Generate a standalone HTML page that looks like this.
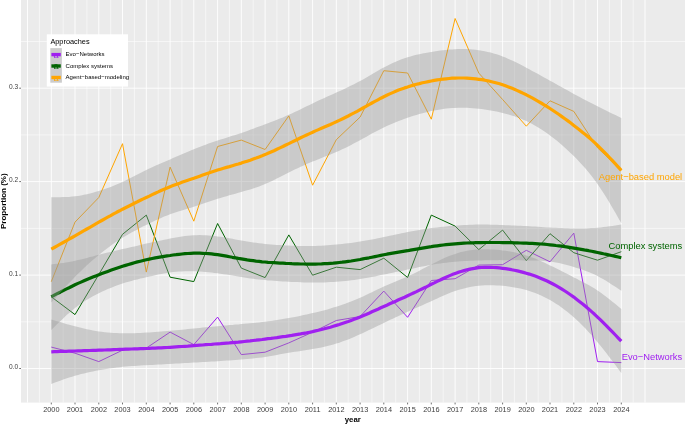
<!DOCTYPE html>
<html><head><meta charset="utf-8"><title>Approaches</title>
<style>
html,body{margin:0;padding:0;background:#fff;}
svg{display:block;font-family:"Liberation Sans",sans-serif;}
</style></head><body>
<svg width="685" height="424" viewBox="0 0 685 424">
<rect width="685" height="424" fill="#fff"/>
<rect x="21" y="0" width="664" height="402.6" fill="#ebebeb"/>
<path d="M21 321.8H685M21 228.4H685M21 134.9H685M21 41.5H685M39.4 0V402.6M63.2 0V402.6M86.9 0V402.6M110.7 0V402.6M134.4 0V402.6M158.2 0V402.6M181.9 0V402.6M205.7 0V402.6M229.4 0V402.6M253.2 0V402.6M276.9 0V402.6M300.7 0V402.6M324.4 0V402.6M348.2 0V402.6M371.9 0V402.6M395.7 0V402.6M419.4 0V402.6M443.2 0V402.6M466.9 0V402.6M490.7 0V402.6M514.4 0V402.6M538.2 0V402.6M561.9 0V402.6M585.7 0V402.6M609.4 0V402.6M633.2 0V402.6" stroke="#fff" stroke-width="0.55" fill="none"/>
<path d="M21 368.5H685M21 275.1H685M21 181.6H685M21 88.2H685M27.5 0V402.6M51.3 0V402.6M75.0 0V402.6M98.8 0V402.6M122.5 0V402.6M146.3 0V402.6M170.1 0V402.6M193.8 0V402.6M217.6 0V402.6M241.3 0V402.6M265.1 0V402.6M288.8 0V402.6M312.6 0V402.6M336.3 0V402.6M360.1 0V402.6M383.8 0V402.6M407.6 0V402.6M431.3 0V402.6M455.1 0V402.6M478.8 0V402.6M502.6 0V402.6M526.3 0V402.6M550.0 0V402.6M573.8 0V402.6M597.5 0V402.6M621.3 0V402.6M645.0 0V402.6" stroke="#fff" stroke-width="0.9" fill="none"/>
<polyline points="51.3,347.1 75.0,353.2 98.8,361.6 122.5,350.2 146.3,348.1 170.1,332.1 193.8,344.6 217.6,317.1 241.3,354.6 265.1,352.2 288.8,342.9 312.6,332.2 336.3,320.5 360.1,316.5 383.8,291.1 407.6,317.3 431.3,280.5 455.1,278.7 478.8,265.1 502.6,264.7 526.3,250.3 550.0,261.8 573.8,233.1 597.5,361.6 621.3,362.6" fill="none" stroke="#a020f0" stroke-width="1" stroke-linejoin="round"/>
<polyline points="51.3,296.8 75.0,314.6 98.8,274.5 122.5,234.3 146.3,215.1 170.1,277.2 193.8,281.6 217.6,223.5 241.3,268.1 265.1,277.6 288.8,234.9 312.6,275.2 336.3,267.2 360.1,269.6 383.8,258.2 407.6,277.5 431.3,215.1 455.1,226.1 478.8,249.6 502.6,230.1 526.3,260.6 550.0,233.7 573.8,252.7 597.5,260.2 621.3,251.7" fill="none" stroke="#006400" stroke-width="1" stroke-linejoin="round"/>
<polyline points="51.3,281.7 75.0,222.1 98.8,197.5 122.5,143.7 146.3,272.1 170.1,167.1 193.8,221.2 217.6,146.5 241.3,140.1 265.1,149.5 288.8,115.9 312.6,185.2 336.3,139.7 360.1,117.1 383.8,70.7 407.6,73.0 431.3,119.2 455.1,18.5 478.8,73.1 502.6,99.5 526.3,126.2 550.0,100.8 573.8,111.4 597.5,147.8 621.3,170.4" fill="none" stroke="#ffa500" stroke-width="1" stroke-linejoin="round"/>
<polygon points="51.3,319.5 54.3,320.4 57.2,321.3 60.2,322.1 63.2,323.0 66.1,323.9 69.1,324.7 72.1,325.5 75.0,326.3 78.0,327.1 81.0,327.8 84.0,328.5 86.9,329.2 89.9,329.8 92.9,330.4 95.8,330.9 98.8,331.4 101.8,331.8 104.7,332.2 107.7,332.5 110.7,332.7 113.6,332.9 116.6,333.1 119.6,333.2 122.5,333.3 125.5,333.3 128.5,333.3 131.5,333.3 134.4,333.2 137.4,333.1 140.4,333.0 143.3,332.8 146.3,332.6 149.3,332.4 152.2,332.3 155.2,332.0 158.2,331.8 161.1,331.6 164.1,331.3 167.1,331.1 170.1,330.8 173.0,330.5 176.0,330.3 179.0,330.0 181.9,329.7 184.9,329.4 187.9,329.1 190.8,328.8 193.8,328.5 196.8,328.2 199.7,327.9 202.7,327.6 205.7,327.3 208.6,327.0 211.6,326.7 214.6,326.4 217.6,326.2 220.5,325.9 223.5,325.6 226.5,325.4 229.4,325.1 232.4,324.9 235.4,324.6 238.3,324.4 241.3,324.1 244.3,323.8 247.2,323.6 250.2,323.3 253.2,323.0 256.1,322.7 259.1,322.4 262.1,322.0 265.1,321.7 268.0,321.3 271.0,320.9 274.0,320.5 276.9,320.1 279.9,319.6 282.9,319.1 285.8,318.6 288.8,318.1 291.8,317.5 294.7,317.0 297.7,316.4 300.7,315.8 303.6,315.1 306.6,314.5 309.6,313.8 312.6,313.1 315.5,312.4 318.5,311.7 321.5,310.9 324.4,310.2 327.4,309.4 330.4,308.5 333.3,307.6 336.3,306.7 339.3,305.8 342.2,304.8 345.2,303.7 348.2,302.6 351.1,301.5 354.1,300.3 357.1,299.1 360.1,297.8 363.0,296.4 366.0,295.0 369.0,293.6 371.9,292.2 374.9,290.7 377.9,289.3 380.8,287.9 383.8,286.6 386.8,285.3 389.7,284.0 392.7,282.8 395.7,281.6 398.6,280.3 401.6,279.1 404.6,277.8 407.6,276.5 410.5,275.1 413.5,273.7 416.5,272.2 419.4,270.7 422.4,269.1 425.4,267.6 428.3,266.0 431.3,264.5 434.3,263.0 437.2,261.5 440.2,260.0 443.2,258.6 446.1,257.3 449.1,256.1 452.1,254.9 455.1,253.9 458.0,252.9 461.0,252.1 464.0,251.4 466.9,250.8 469.9,250.3 472.9,249.9 475.8,249.6 478.8,249.4 481.8,249.3 484.7,249.3 487.7,249.3 490.7,249.4 493.6,249.5 496.6,249.8 499.6,250.1 502.6,250.4 505.5,250.8 508.5,251.2 511.5,251.7 514.4,252.3 517.4,253.0 520.4,253.7 523.3,254.5 526.3,255.4 529.3,256.4 532.2,257.5 535.2,258.6 538.2,259.9 541.1,261.2 544.1,262.5 547.1,263.9 550.0,265.4 553.0,266.8 556.0,268.3 559.0,269.8 561.9,271.3 564.9,272.8 567.9,274.3 570.8,275.8 573.8,277.4 576.8,278.8 579.7,280.4 582.7,281.9 585.7,283.5 588.6,285.1 591.6,286.8 594.6,288.6 597.5,290.5 600.5,292.5 603.5,294.7 606.5,296.9 609.4,299.3 612.4,301.7 615.4,304.1 618.3,306.6 621.3,309.1 621.3,373.0 618.3,369.0 615.4,365.0 612.4,361.1 609.4,357.2 606.5,353.3 603.5,349.5 600.5,345.8 597.5,342.2 594.6,338.7 591.6,335.3 588.6,332.0 585.7,328.8 582.7,325.7 579.7,322.8 576.8,320.0 573.8,317.2 570.8,314.7 567.9,312.2 564.9,309.9 561.9,307.7 559.0,305.6 556.0,303.7 553.0,301.8 550.0,300.1 547.1,298.5 544.1,297.0 541.1,295.6 538.2,294.3 535.2,293.1 532.2,292.0 529.3,291.0 526.3,290.1 523.3,289.3 520.4,288.6 517.4,288.0 514.4,287.4 511.5,286.9 508.5,286.5 505.5,286.1 502.6,285.8 499.6,285.6 496.6,285.4 493.6,285.3 490.7,285.2 487.7,285.2 484.7,285.3 481.8,285.5 478.8,285.8 475.8,286.1 472.9,286.5 469.9,287.1 466.9,287.7 464.0,288.4 461.0,289.2 458.0,290.1 455.1,291.1 452.1,292.1 449.1,293.3 446.1,294.5 443.2,295.8 440.2,297.1 437.2,298.5 434.3,299.8 431.3,301.2 428.3,302.5 425.4,303.8 422.4,305.2 419.4,306.5 416.5,307.8 413.5,309.1 410.5,310.5 407.6,311.8 404.6,313.2 401.6,314.5 398.6,315.9 395.7,317.3 392.7,318.7 389.7,320.1 386.8,321.5 383.8,323.0 380.8,324.4 377.9,325.8 374.9,327.3 371.9,328.7 369.0,330.1 366.0,331.6 363.0,332.9 360.1,334.3 357.1,335.6 354.1,336.9 351.1,338.2 348.2,339.4 345.2,340.5 342.2,341.6 339.3,342.7 336.3,343.6 333.3,344.5 330.4,345.3 327.4,346.1 324.4,346.8 321.5,347.4 318.5,348.0 315.5,348.6 312.6,349.1 309.6,349.6 306.6,350.1 303.6,350.5 300.7,350.9 297.7,351.4 294.7,351.8 291.8,352.3 288.8,352.7 285.8,353.3 282.9,353.8 279.9,354.3 276.9,354.9 274.0,355.4 271.0,356.0 268.0,356.5 265.1,356.9 262.1,357.4 259.1,357.7 256.1,358.1 253.2,358.4 250.2,358.7 247.2,359.0 244.3,359.2 241.3,359.5 238.3,359.7 235.4,360.0 232.4,360.2 229.4,360.4 226.5,360.6 223.5,360.8 220.5,361.0 217.6,361.2 214.6,361.4 211.6,361.6 208.6,361.7 205.7,361.9 202.7,362.1 199.7,362.3 196.8,362.5 193.8,362.6 190.8,362.8 187.9,363.0 184.9,363.1 181.9,363.3 179.0,363.5 176.0,363.6 173.0,363.8 170.1,364.0 167.1,364.1 164.1,364.3 161.1,364.4 158.2,364.6 155.2,364.7 152.2,364.9 149.3,365.0 146.3,365.2 143.3,365.3 140.4,365.5 137.4,365.7 134.4,365.9 131.5,366.1 128.5,366.3 125.5,366.6 122.5,366.8 119.6,367.2 116.6,367.5 113.6,367.9 110.7,368.3 107.7,368.7 104.7,369.2 101.8,369.7 98.8,370.2 95.8,370.8 92.9,371.4 89.9,372.0 86.9,372.7 84.0,373.4 81.0,374.1 78.0,374.9 75.0,375.8 72.1,376.7 69.1,377.6 66.1,378.6 63.2,379.6 60.2,380.7 57.2,381.7 54.3,382.8 51.3,383.9" fill="#999" fill-opacity="0.4"/>
<polyline points="51.3,351.8 54.3,351.7 57.2,351.6 60.2,351.5 63.2,351.4 66.1,351.3 69.1,351.2 72.1,351.1 75.0,351.0 78.0,350.9 81.0,350.8 84.0,350.7 86.9,350.6 89.9,350.5 92.9,350.4 95.8,350.3 98.8,350.2 101.8,350.1 104.7,350.0 107.7,349.9 110.7,349.8 113.6,349.6 116.6,349.5 119.6,349.4 122.5,349.3 125.5,349.2 128.5,349.1 131.5,349.0 134.4,348.9 137.4,348.8 140.4,348.7 143.3,348.6 146.3,348.5 149.3,348.4 152.2,348.2 155.2,348.1 158.2,347.9 161.1,347.8 164.1,347.6 167.1,347.5 170.1,347.3 173.0,347.1 176.0,346.9 179.0,346.7 181.9,346.5 184.9,346.3 187.9,346.1 190.8,345.8 193.8,345.6 196.8,345.4 199.7,345.2 202.7,345.0 205.7,344.7 208.6,344.5 211.6,344.3 214.6,344.0 217.6,343.8 220.5,343.6 223.5,343.3 226.5,343.1 229.4,342.9 232.4,342.6 235.4,342.3 238.3,342.1 241.3,341.8 244.3,341.5 247.2,341.2 250.2,340.9 253.2,340.5 256.1,340.2 259.1,339.8 262.1,339.5 265.1,339.1 268.0,338.7 271.0,338.4 274.0,338.0 276.9,337.6 279.9,337.1 282.9,336.7 285.8,336.3 288.8,335.8 291.8,335.4 294.7,334.9 297.7,334.4 300.7,333.9 303.6,333.3 306.6,332.8 309.6,332.2 312.6,331.6 315.5,330.9 318.5,330.2 321.5,329.5 324.4,328.8 327.4,328.0 330.4,327.2 333.3,326.3 336.3,325.4 339.3,324.5 342.2,323.5 345.2,322.5 348.2,321.5 351.1,320.4 354.1,319.3 357.1,318.2 360.1,317.0 363.0,315.7 366.0,314.5 369.0,313.2 371.9,311.8 374.9,310.5 377.9,309.2 380.8,307.8 383.8,306.5 386.8,305.2 389.7,303.8 392.7,302.5 395.7,301.2 398.6,299.8 401.6,298.5 404.6,297.2 407.6,295.8 410.5,294.4 413.5,293.0 416.5,291.6 419.4,290.1 422.4,288.7 425.4,287.3 428.3,285.8 431.3,284.3 434.3,282.9 437.2,281.4 440.2,280.0 443.2,278.5 446.1,277.2 449.1,275.9 452.1,274.6 455.1,273.5 458.0,272.4 461.0,271.5 464.0,270.6 466.9,269.8 469.9,269.1 472.9,268.6 475.8,268.1 478.8,267.7 481.8,267.5 484.7,267.4 487.7,267.3 490.7,267.3 493.6,267.5 496.6,267.7 499.6,267.9 502.6,268.3 505.5,268.7 508.5,269.2 511.5,269.7 514.4,270.3 517.4,270.9 520.4,271.6 523.3,272.4 526.3,273.2 529.3,274.1 532.2,275.1 535.2,276.1 538.2,277.2 541.1,278.4 544.1,279.7 547.1,281.0 550.0,282.5 553.0,284.0 556.0,285.6 559.0,287.3 561.9,289.1 564.9,291.0 567.9,293.0 570.8,295.0 573.8,297.1 576.8,299.4 579.7,301.7 582.7,304.0 585.7,306.5 588.6,309.0 591.6,311.6 594.6,314.3 597.5,317.1 600.5,319.9 603.5,322.9 606.5,325.8 609.4,328.8 612.4,331.9 615.4,335.0 618.3,338.1 621.3,341.2" fill="none" stroke="#a020f0" stroke-width="3.2" stroke-linejoin="round"/>
<polygon points="51.3,264.5 54.3,264.1 57.2,263.7 60.2,263.3 63.2,262.9 66.1,262.4 69.1,261.9 72.1,261.4 75.0,260.8 78.0,260.1 81.0,259.4 84.0,258.7 86.9,257.9 89.9,257.1 92.9,256.4 95.8,255.6 98.8,254.8 101.8,254.0 104.7,253.3 107.7,252.6 110.7,251.9 113.6,251.2 116.6,250.5 119.6,249.8 122.5,249.1 125.5,248.4 128.5,247.7 131.5,247.0 134.4,246.4 137.4,245.7 140.4,245.0 143.3,244.3 146.3,243.6 149.3,243.0 152.2,242.3 155.2,241.7 158.2,241.0 161.1,240.4 164.1,239.8 167.1,239.2 170.1,238.6 173.0,238.1 176.0,237.5 179.0,237.0 181.9,236.5 184.9,236.1 187.9,235.8 190.8,235.5 193.8,235.3 196.8,235.2 199.7,235.1 202.7,235.2 205.7,235.3 208.6,235.5 211.6,235.8 214.6,236.1 217.6,236.4 220.5,236.8 223.5,237.3 226.5,237.8 229.4,238.3 232.4,238.8 235.4,239.4 238.3,239.9 241.3,240.4 244.3,240.9 247.2,241.4 250.2,241.9 253.2,242.4 256.1,242.8 259.1,243.2 262.1,243.6 265.1,243.9 268.0,244.2 271.0,244.5 274.0,244.7 276.9,244.9 279.9,245.1 282.9,245.3 285.8,245.5 288.8,245.6 291.8,245.7 294.7,245.8 297.7,245.9 300.7,246.0 303.6,246.0 306.6,246.1 309.6,246.0 312.6,246.0 315.5,245.9 318.5,245.8 321.5,245.7 324.4,245.5 327.4,245.3 330.4,245.1 333.3,244.8 336.3,244.6 339.3,244.3 342.2,244.0 345.2,243.6 348.2,243.3 351.1,242.9 354.1,242.5 357.1,242.1 360.1,241.6 363.0,241.1 366.0,240.6 369.0,240.1 371.9,239.5 374.9,238.9 377.9,238.3 380.8,237.7 383.8,237.1 386.8,236.5 389.7,235.8 392.7,235.2 395.7,234.6 398.6,233.9 401.6,233.3 404.6,232.7 407.6,232.1 410.5,231.6 413.5,231.0 416.5,230.5 419.4,230.0 422.4,229.5 425.4,229.0 428.3,228.6 431.3,228.1 434.3,227.8 437.2,227.4 440.2,227.0 443.2,226.7 446.1,226.4 449.1,226.1 452.1,225.9 455.1,225.7 458.0,225.4 461.0,225.2 464.0,225.1 466.9,224.9 469.9,224.8 472.9,224.7 475.8,224.6 478.8,224.6 481.8,224.6 484.7,224.6 487.7,224.6 490.7,224.7 493.6,224.7 496.6,224.8 499.6,224.9 502.6,225.0 505.5,225.2 508.5,225.3 511.5,225.4 514.4,225.5 517.4,225.7 520.4,225.8 523.3,226.0 526.3,226.1 529.3,226.3 532.2,226.5 535.2,226.6 538.2,226.8 541.1,227.0 544.1,227.2 547.1,227.4 550.0,227.5 553.0,227.7 556.0,227.8 559.0,228.0 561.9,228.1 564.9,228.2 567.9,228.3 570.8,228.4 573.8,228.5 576.8,228.5 579.7,228.5 582.7,228.4 585.7,228.4 588.6,228.3 591.6,228.1 594.6,227.9 597.5,227.7 600.5,227.4 603.5,227.1 606.5,226.7 609.4,226.3 612.4,225.9 615.4,225.5 618.3,225.1 621.3,224.6 621.3,290.8 618.3,288.8 615.4,286.8 612.4,284.9 609.4,283.0 606.5,281.1 603.5,279.3 600.5,277.7 597.5,276.1 594.6,274.6 591.6,273.3 588.6,272.1 585.7,270.9 582.7,269.8 579.7,268.8 576.8,267.9 573.8,267.0 570.8,266.1 567.9,265.3 564.9,264.5 561.9,263.8 559.0,263.1 556.0,262.5 553.0,262.0 550.0,261.6 547.1,261.2 544.1,261.0 541.1,260.8 538.2,260.6 535.2,260.5 532.2,260.5 529.3,260.4 526.3,260.4 523.3,260.4 520.4,260.3 517.4,260.3 514.4,260.3 511.5,260.2 508.5,260.2 505.5,260.2 502.6,260.2 499.6,260.1 496.6,260.2 493.6,260.2 490.7,260.2 487.7,260.3 484.7,260.3 481.8,260.4 478.8,260.5 475.8,260.6 472.9,260.7 469.9,260.8 466.9,261.0 464.0,261.1 461.0,261.3 458.0,261.5 455.1,261.8 452.1,262.1 449.1,262.3 446.1,262.7 443.2,263.0 440.2,263.4 437.2,263.8 434.3,264.3 431.3,264.8 428.3,265.3 425.4,265.9 422.4,266.5 419.4,267.1 416.5,267.7 413.5,268.4 410.5,269.0 407.6,269.6 404.6,270.3 401.6,270.9 398.6,271.5 395.7,272.1 392.7,272.7 389.7,273.3 386.8,273.9 383.8,274.5 380.8,275.1 377.9,275.8 374.9,276.4 371.9,276.9 369.0,277.5 366.0,278.1 363.0,278.6 360.1,279.1 357.1,279.5 354.1,279.9 351.1,280.3 348.2,280.7 345.2,281.0 342.2,281.3 339.3,281.5 336.3,281.7 333.3,281.9 330.4,282.1 327.4,282.2 324.4,282.4 321.5,282.4 318.5,282.5 315.5,282.5 312.6,282.5 309.6,282.5 306.6,282.4 303.6,282.4 300.7,282.3 297.7,282.1 294.7,282.0 291.8,281.9 288.8,281.7 285.8,281.6 282.9,281.4 279.9,281.2 276.9,281.0 274.0,280.8 271.0,280.6 268.0,280.4 265.1,280.1 262.1,279.8 259.1,279.5 256.1,279.2 253.2,278.8 250.2,278.4 247.2,278.0 244.3,277.6 241.3,277.1 238.3,276.6 235.4,276.1 232.4,275.6 229.4,275.1 226.5,274.6 223.5,274.2 220.5,273.7 217.6,273.3 214.6,272.9 211.6,272.5 208.6,272.2 205.7,271.9 202.7,271.7 199.7,271.5 196.8,271.3 193.8,271.2 190.8,271.2 187.9,271.2 184.9,271.2 181.9,271.4 179.0,271.5 176.0,271.8 173.0,272.1 170.1,272.5 167.1,272.9 164.1,273.4 161.1,274.0 158.2,274.6 155.2,275.2 152.2,275.9 149.3,276.5 146.3,277.2 143.3,277.9 140.4,278.6 137.4,279.4 134.4,280.1 131.5,280.9 128.5,281.8 125.5,282.6 122.5,283.6 119.6,284.6 116.6,285.6 113.6,286.7 110.7,287.9 107.7,289.1 104.7,290.4 101.8,291.8 98.8,293.2 95.8,294.7 92.9,296.3 89.9,298.0 86.9,299.7 84.0,301.6 81.0,303.6 78.0,305.7 75.0,308.0 72.1,310.4 69.1,313.0 66.1,315.6 63.2,318.4 60.2,321.2 57.2,324.1 54.3,327.0 51.3,330.0" fill="#999" fill-opacity="0.4"/>
<polyline points="51.3,296.8 54.3,295.2 57.2,293.7 60.2,292.2 63.2,290.6 66.1,289.1 69.1,287.7 72.1,286.2 75.0,284.8 78.0,283.4 81.0,282.1 84.0,280.8 86.9,279.5 89.9,278.3 92.9,277.1 95.8,275.9 98.8,274.8 101.8,273.6 104.7,272.5 107.7,271.4 110.7,270.3 113.6,269.3 116.6,268.3 119.6,267.3 122.5,266.3 125.5,265.4 128.5,264.5 131.5,263.6 134.4,262.7 137.4,261.9 140.4,261.2 143.3,260.5 146.3,259.8 149.3,259.1 152.2,258.5 155.2,257.9 158.2,257.4 161.1,256.9 164.1,256.4 167.1,255.9 170.1,255.5 173.0,255.0 176.0,254.7 179.0,254.3 181.9,254.0 184.9,253.7 187.9,253.5 190.8,253.3 193.8,253.2 196.8,253.2 199.7,253.2 202.7,253.3 205.7,253.5 208.6,253.7 211.6,253.9 214.6,254.3 217.6,254.7 220.5,255.1 223.5,255.6 226.5,256.1 229.4,256.7 232.4,257.3 235.4,257.8 238.3,258.4 241.3,258.9 244.3,259.4 247.2,259.9 250.2,260.3 253.2,260.7 256.1,261.1 259.1,261.4 262.1,261.8 265.1,262.0 268.0,262.3 271.0,262.5 274.0,262.7 276.9,262.9 279.9,263.1 282.9,263.2 285.8,263.4 288.8,263.5 291.8,263.7 294.7,263.8 297.7,263.9 300.7,264.0 303.6,264.0 306.6,264.1 309.6,264.1 312.6,264.1 315.5,264.1 318.5,264.0 321.5,263.9 324.4,263.7 327.4,263.6 330.4,263.3 333.3,263.1 336.3,262.8 339.3,262.5 342.2,262.2 345.2,261.8 348.2,261.4 351.1,261.0 354.1,260.5 357.1,260.0 360.1,259.5 363.0,258.9 366.0,258.3 369.0,257.8 371.9,257.2 374.9,256.6 377.9,256.0 380.8,255.4 383.8,254.8 386.8,254.2 389.7,253.7 392.7,253.2 395.7,252.7 398.6,252.2 401.6,251.7 404.6,251.2 407.6,250.7 410.5,250.1 413.5,249.6 416.5,249.1 419.4,248.6 422.4,248.1 425.4,247.6 428.3,247.1 431.3,246.7 434.3,246.2 437.2,245.8 440.2,245.4 443.2,245.0 446.1,244.7 449.1,244.4 452.1,244.1 455.1,243.8 458.0,243.6 461.0,243.4 464.0,243.2 466.9,243.0 469.9,242.9 472.9,242.8 475.8,242.7 478.8,242.6 481.8,242.6 484.7,242.5 487.7,242.5 490.7,242.5 493.6,242.5 496.6,242.5 499.6,242.5 502.6,242.6 505.5,242.6 508.5,242.7 511.5,242.7 514.4,242.8 517.4,242.9 520.4,243.0 523.3,243.1 526.3,243.2 529.3,243.3 532.2,243.4 535.2,243.6 538.2,243.8 541.1,244.0 544.1,244.2 547.1,244.5 550.0,244.8 553.0,245.1 556.0,245.5 559.0,245.8 561.9,246.2 564.9,246.7 567.9,247.1 570.8,247.6 573.8,248.1 576.8,248.6 579.7,249.1 582.7,249.6 585.7,250.2 588.6,250.7 591.6,251.3 594.6,251.9 597.5,252.5 600.5,253.1 603.5,253.8 606.5,254.4 609.4,255.0 612.4,255.7 615.4,256.4 618.3,257.0 621.3,257.7" fill="none" stroke="#006400" stroke-width="3.2" stroke-linejoin="round"/>
<polygon points="51.3,197.2 54.3,197.2 57.2,197.2 60.2,197.2 63.2,197.1 66.1,197.0 69.1,196.9 72.1,196.6 75.0,196.3 78.0,195.9 81.0,195.4 84.0,194.8 86.9,194.2 89.9,193.4 92.9,192.7 95.8,191.8 98.8,190.9 101.8,190.0 104.7,189.0 107.7,188.0 110.7,186.9 113.6,185.7 116.6,184.5 119.6,183.3 122.5,181.9 125.5,180.5 128.5,179.1 131.5,177.6 134.4,176.0 137.4,174.5 140.4,173.0 143.3,171.4 146.3,170.0 149.3,168.6 152.2,167.2 155.2,165.8 158.2,164.5 161.1,163.2 164.1,162.0 167.1,160.7 170.1,159.4 173.0,158.1 176.0,156.8 179.0,155.5 181.9,154.3 184.9,153.0 187.9,151.7 190.8,150.5 193.8,149.3 196.8,148.1 199.7,146.9 202.7,145.8 205.7,144.7 208.6,143.6 211.6,142.6 214.6,141.6 217.6,140.6 220.5,139.6 223.5,138.7 226.5,137.7 229.4,136.8 232.4,135.8 235.4,134.9 238.3,133.9 241.3,132.9 244.3,131.9 247.2,130.9 250.2,129.8 253.2,128.7 256.1,127.6 259.1,126.5 262.1,125.4 265.1,124.3 268.0,123.2 271.0,122.0 274.0,120.9 276.9,119.8 279.9,118.6 282.9,117.4 285.8,116.1 288.8,114.8 291.8,113.5 294.7,112.1 297.7,110.7 300.7,109.2 303.6,107.8 306.6,106.3 309.6,104.9 312.6,103.4 315.5,102.0 318.5,100.6 321.5,99.3 324.4,97.9 327.4,96.6 330.4,95.2 333.3,93.9 336.3,92.6 339.3,91.2 342.2,89.9 345.2,88.5 348.2,87.1 351.1,85.6 354.1,84.2 357.1,82.6 360.1,81.0 363.0,79.4 366.0,77.7 369.0,75.9 371.9,74.2 374.9,72.4 377.9,70.7 380.8,69.0 383.8,67.4 386.8,65.9 389.7,64.4 392.7,63.0 395.7,61.7 398.6,60.4 401.6,59.3 404.6,58.2 407.6,57.3 410.5,56.4 413.5,55.6 416.5,54.8 419.4,54.2 422.4,53.6 425.4,53.0 428.3,52.5 431.3,52.0 434.3,51.5 437.2,51.0 440.2,50.6 443.2,50.2 446.1,49.9 449.1,49.6 452.1,49.4 455.1,49.2 458.0,49.1 461.0,49.0 464.0,49.0 466.9,49.1 469.9,49.3 472.9,49.5 475.8,49.8 478.8,50.2 481.8,50.7 484.7,51.2 487.7,51.9 490.7,52.6 493.6,53.4 496.6,54.3 499.6,55.3 502.6,56.4 505.5,57.6 508.5,58.9 511.5,60.2 514.4,61.6 517.4,63.1 520.4,64.6 523.3,66.1 526.3,67.7 529.3,69.3 532.2,70.9 535.2,72.5 538.2,74.1 541.1,75.7 544.1,77.4 547.1,79.0 550.0,80.7 553.0,82.3 556.0,84.0 559.0,85.7 561.9,87.3 564.9,89.0 567.9,90.6 570.8,92.3 573.8,93.9 576.8,95.5 579.7,97.1 582.7,98.7 585.7,100.2 588.6,101.8 591.6,103.3 594.6,104.8 597.5,106.3 600.5,107.8 603.5,109.3 606.5,110.7 609.4,112.2 612.4,113.7 615.4,115.1 618.3,116.6 621.3,118.0 621.3,223.2 618.3,218.0 615.4,212.8 612.4,207.7 609.4,202.6 606.5,197.7 603.5,192.9 600.5,188.4 597.5,184.0 594.6,179.9 591.6,176.0 588.6,172.3 585.7,168.8 582.7,165.4 579.7,162.2 576.8,159.1 573.8,156.1 570.8,153.2 567.9,150.4 564.9,147.7 561.9,145.1 559.0,142.5 556.0,140.1 553.0,137.7 550.0,135.4 547.1,133.3 544.1,131.2 541.1,129.3 538.2,127.4 535.2,125.7 532.2,124.0 529.3,122.5 526.3,121.0 523.3,119.7 520.4,118.5 517.4,117.4 514.4,116.3 511.5,115.4 508.5,114.5 505.5,113.7 502.6,112.9 499.6,112.2 496.6,111.5 493.6,111.0 490.7,110.4 487.7,109.9 484.7,109.5 481.8,109.1 478.8,108.7 475.8,108.4 472.9,108.2 469.9,108.0 466.9,107.8 464.0,107.8 461.0,107.7 458.0,107.8 455.1,107.9 452.1,108.0 449.1,108.3 446.1,108.6 443.2,108.9 440.2,109.4 437.2,109.9 434.3,110.4 431.3,111.0 428.3,111.7 425.4,112.4 422.4,113.2 419.4,114.0 416.5,114.9 413.5,115.8 410.5,116.8 407.6,117.8 404.6,118.8 401.6,119.9 398.6,121.0 395.7,122.2 392.7,123.4 389.7,124.7 386.8,126.0 383.8,127.4 380.8,128.9 377.9,130.4 374.9,132.0 371.9,133.6 369.0,135.2 366.0,136.9 363.0,138.5 360.1,140.2 357.1,141.8 354.1,143.3 351.1,144.9 348.2,146.4 345.2,147.9 342.2,149.3 339.3,150.7 336.3,152.0 333.3,153.3 330.4,154.5 327.4,155.7 324.4,156.8 321.5,158.0 318.5,159.2 315.5,160.4 312.6,161.6 309.6,162.8 306.6,164.1 303.6,165.5 300.7,166.8 297.7,168.2 294.7,169.6 291.8,171.1 288.8,172.6 285.8,174.1 282.9,175.6 279.9,177.1 276.9,178.6 274.0,180.0 271.0,181.4 268.0,182.8 265.1,184.0 262.1,185.2 259.1,186.4 256.1,187.4 253.2,188.4 250.2,189.4 247.2,190.3 244.3,191.1 241.3,192.0 238.3,192.8 235.4,193.7 232.4,194.5 229.4,195.3 226.5,196.2 223.5,197.0 220.5,197.9 217.6,198.8 214.6,199.8 211.6,200.8 208.6,201.8 205.7,202.8 202.7,203.8 199.7,204.8 196.8,205.8 193.8,206.8 190.8,207.7 187.9,208.6 184.9,209.5 181.9,210.4 179.0,211.3 176.0,212.2 173.0,213.2 170.1,214.3 167.1,215.4 164.1,216.6 161.1,217.9 158.2,219.2 155.2,220.6 152.2,222.0 149.3,223.4 146.3,224.9 143.3,226.3 140.4,227.8 137.4,229.4 134.4,231.0 131.5,232.6 128.5,234.2 125.5,236.0 122.5,237.8 119.6,239.7 116.6,241.6 113.6,243.6 110.7,245.7 107.7,247.9 104.7,250.2 101.8,252.5 98.8,254.9 95.8,257.4 92.9,260.0 89.9,262.6 86.9,265.3 84.0,268.1 81.0,270.9 78.0,273.8 75.0,276.8 72.1,279.9 69.1,283.0 66.1,286.1 63.2,289.4 60.2,292.6 57.2,295.9 54.3,299.2 51.3,302.5" fill="#999" fill-opacity="0.4"/>
<polyline points="51.3,249.2 54.3,247.5 57.2,245.9 60.2,244.2 63.2,242.5 66.1,240.9 69.1,239.2 72.1,237.5 75.0,235.8 78.0,234.1 81.0,232.4 84.0,230.7 86.9,229.0 89.9,227.3 92.9,225.6 95.8,223.9 98.8,222.2 101.8,220.5 104.7,218.8 107.7,217.2 110.7,215.6 113.6,213.9 116.6,212.3 119.6,210.8 122.5,209.2 125.5,207.7 128.5,206.2 131.5,204.7 134.4,203.2 137.4,201.8 140.4,200.3 143.3,198.9 146.3,197.5 149.3,196.1 152.2,194.6 155.2,193.2 158.2,191.9 161.1,190.5 164.1,189.2 167.1,188.0 170.1,186.7 173.0,185.6 176.0,184.5 179.0,183.4 181.9,182.3 184.9,181.3 187.9,180.3 190.8,179.3 193.8,178.3 196.8,177.2 199.7,176.2 202.7,175.1 205.7,174.1 208.6,173.1 211.6,172.1 214.6,171.1 217.6,170.1 220.5,169.2 223.5,168.3 226.5,167.4 229.4,166.6 232.4,165.7 235.4,164.8 238.3,164.0 241.3,163.1 244.3,162.1 247.2,161.2 250.2,160.2 253.2,159.1 256.1,158.1 259.1,156.9 262.1,155.8 265.1,154.6 268.0,153.3 271.0,152.0 274.0,150.7 276.9,149.3 279.9,147.9 282.9,146.5 285.8,145.0 288.8,143.6 291.8,142.1 294.7,140.7 297.7,139.3 300.7,137.8 303.6,136.4 306.6,135.0 309.6,133.6 312.6,132.3 315.5,130.9 318.5,129.6 321.5,128.3 324.4,127.1 327.4,125.8 330.4,124.5 333.3,123.1 336.3,121.8 339.3,120.4 342.2,119.0 345.2,117.5 348.2,116.0 351.1,114.4 354.1,112.9 357.1,111.3 360.1,109.6 363.0,108.0 366.0,106.3 369.0,104.7 371.9,103.0 374.9,101.4 377.9,99.8 380.8,98.2 383.8,96.7 386.8,95.3 389.7,93.9 392.7,92.6 395.7,91.3 398.6,90.1 401.6,89.0 404.6,87.9 407.6,87.0 410.5,86.0 413.5,85.1 416.5,84.3 419.4,83.6 422.4,82.8 425.4,82.2 428.3,81.6 431.3,81.0 434.3,80.4 437.2,79.9 440.2,79.5 443.2,79.1 446.1,78.8 449.1,78.5 452.1,78.2 455.1,78.1 458.0,78.0 461.0,78.0 464.0,78.0 466.9,78.1 469.9,78.3 472.9,78.6 475.8,78.9 478.8,79.3 481.8,79.7 484.7,80.2 487.7,80.8 490.7,81.5 493.6,82.2 496.6,83.0 499.6,83.8 502.6,84.8 505.5,85.8 508.5,86.9 511.5,88.1 514.4,89.3 517.4,90.6 520.4,92.0 523.3,93.4 526.3,94.8 529.3,96.4 532.2,97.9 535.2,99.6 538.2,101.3 541.1,103.0 544.1,104.8 547.1,106.6 550.0,108.5 553.0,110.5 556.0,112.5 559.0,114.5 561.9,116.6 564.9,118.7 567.9,120.9 570.8,123.1 573.8,125.4 576.8,127.7 579.7,130.0 582.7,132.4 585.7,134.8 588.6,137.3 591.6,139.9 594.6,142.6 597.5,145.4 600.5,148.3 603.5,151.3 606.5,154.3 609.4,157.5 612.4,160.7 615.4,163.9 618.3,167.1 621.3,170.4" fill="none" stroke="#ffa500" stroke-width="3.2" stroke-linejoin="round"/>
<path d="M51.3 402.6v1.8M75.0 402.6v1.8M98.8 402.6v1.8M122.5 402.6v1.8M146.3 402.6v1.8M170.1 402.6v1.8M193.8 402.6v1.8M217.6 402.6v1.8M241.3 402.6v1.8M265.1 402.6v1.8M288.8 402.6v1.8M312.6 402.6v1.8M336.3 402.6v1.8M360.1 402.6v1.8M383.8 402.6v1.8M407.6 402.6v1.8M431.3 402.6v1.8M455.1 402.6v1.8M478.8 402.6v1.8M502.6 402.6v1.8M526.3 402.6v1.8M550.0 402.6v1.8M573.8 402.6v1.8M597.5 402.6v1.8M621.3 402.6v1.8M21 368.5h-1.8M21 275.1h-1.8M21 181.6h-1.8M21 88.2h-1.8" stroke="#333" stroke-width="0.7" fill="none"/>
<g font-size="7.35" fill="#3d3d3d" text-anchor="middle">
<text x="51.3" y="411.8">2000</text>
<text x="75.0" y="411.8">2001</text>
<text x="98.8" y="411.8">2002</text>
<text x="122.5" y="411.8">2003</text>
<text x="146.3" y="411.8">2004</text>
<text x="170.1" y="411.8">2005</text>
<text x="193.8" y="411.8">2006</text>
<text x="217.6" y="411.8">2007</text>
<text x="241.3" y="411.8">2008</text>
<text x="265.1" y="411.8">2009</text>
<text x="288.8" y="411.8">2010</text>
<text x="312.6" y="411.8">2011</text>
<text x="336.3" y="411.8">2012</text>
<text x="360.1" y="411.8">2013</text>
<text x="383.8" y="411.8">2014</text>
<text x="407.6" y="411.8">2015</text>
<text x="431.3" y="411.8">2016</text>
<text x="455.1" y="411.8">2017</text>
<text x="478.8" y="411.8">2018</text>
<text x="502.6" y="411.8">2019</text>
<text x="526.3" y="411.8">2020</text>
<text x="550.0" y="411.8">2021</text>
<text x="573.8" y="411.8">2022</text>
<text x="597.5" y="411.8">2023</text>
<text x="621.3" y="411.8">2024</text>
</g>
<g font-size="6.6" fill="#3d3d3d" text-anchor="end">
<text x="18.2" y="368.9">0.0</text>
<text x="18.2" y="275.5">0.1</text>
<text x="18.2" y="182.0">0.2</text>
<text x="18.2" y="88.6">0.3</text>
</g>
<text x="352.8" y="421.5" font-size="7.8" font-weight="bold" text-anchor="middle" fill="#000">year</text>
<text transform="translate(5.5,201.2) rotate(-90)" font-size="8" font-weight="bold" text-anchor="middle" fill="#000">Proportion (%)</text>
<g font-size="9.36" text-anchor="end">
<text x="682.2" y="180.1" fill="#ffa500">Agent−based model</text>
<text x="682.2" y="249.1" fill="#006400">Complex systems</text>
<text x="682.2" y="360.2" fill="#a020f0">Evo−Networks</text>
</g>
<rect x="46.8" y="34.3" width="81.2" height="52.3" fill="#fff"/>
<text x="50.4" y="43.9" font-size="7.35" fill="#000">Approaches</text>
<rect x="50.3" y="48.1" width="11.6" height="34.6" fill="#ccc"/>
<path d="M51.4 54.6H60.8" stroke="#a020f0" stroke-width="3.4"/>
<text x="56.1" y="57.9" font-size="9.25" fill="#a020f0" text-anchor="middle">a</text>
<text x="65.6" y="56.1" font-size="6.02" fill="#000">Evo−Networks</text>
<path d="M51.4 66.0H60.8" stroke="#006400" stroke-width="3.4"/>
<text x="56.1" y="69.3" font-size="9.25" fill="#006400" text-anchor="middle">a</text>
<text x="65.6" y="67.5" font-size="6.02" fill="#000">Complex systems</text>
<path d="M51.4 77.5H60.8" stroke="#ffa500" stroke-width="3.4"/>
<text x="56.1" y="80.8" font-size="9.25" fill="#ffa500" text-anchor="middle">a</text>
<text x="65.6" y="79.0" font-size="6.02" fill="#000">Agent−based−modeling</text>
</svg>
</body></html>
